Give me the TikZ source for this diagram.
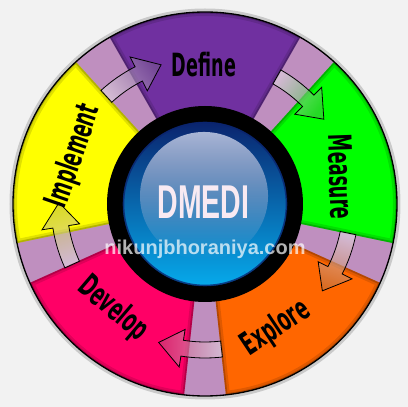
\documentclass[tikz,border=0pt]{standalone}
\usepackage{fontspec}
\setmainfont{Liberation Sans}
\newfontfamily\labelfont{DejaVu Sans}[FakeStretch=0.55]
\newfontfamily\titlefont{Liberation Sans}[FakeStretch=0.6]
\usetikzlibrary{fadings}
\definecolor{bg}{RGB}{242,242,242}
\definecolor{sepc}{RGB}{191,143,191}
\definecolor{cdefine}{RGB}{112,48,160}
\definecolor{cmeasure}{RGB}{0,255,0}
\definecolor{cexplore}{RGB}{255,102,0}
\definecolor{cdevelop}{RGB}{255,0,102}
\definecolor{cimplement}{RGB}{255,255,0}
\definecolor{btop}{RGB}{10,36,110}
\definecolor{bmid}{RGB}{22,92,178}
\definecolor{bbot}{RGB}{6,170,235}
\definecolor{hl}{RGB}{168,182,214}
\definecolor{ttext}{RGB}{248,234,242}
\definecolor{atail}{RGB}{222,208,222}
\tikzfading[name=hlfade, top color=transparent!0, bottom color=transparent!100]

\tikzset{
  lbl/.style={font=\labelfont\bfseries\fontsize{24}{24}\selectfont, text=black, inner sep=0pt},
  title/.style={font=\titlefont\bfseries\fontsize{35.6}{36}\selectfont, text=ttext, inner sep=0pt},
  wmark/.style={font=\bfseries\fontsize{15}{15}\selectfont, text=white, text opacity=0.7, inner sep=0pt},
  arrowshape/.style={draw=black, line width=0.6pt, fill opacity=0.65, line join=miter},
}

\newcommand\wheelsector[3]{%
  \fill[#3] (0,0) -- (#1:192) arc[start angle=#1, end angle=#2, radius=192] -- cycle;
  \begin{scope}
    \clip (0,0) -- (#1:192) arc[start angle=#1, end angle=#2, radius=192] -- cycle;
    \draw[black, opacity=0.12, line width=6pt] (0,0) -- (#1:192) arc[start angle=#1, end angle=#2, radius=192] -- cycle;
    \draw[black, opacity=0.2, line width=2.5pt] (0,0) -- (#1:192) arc[start angle=#1, end angle=#2, radius=192] -- cycle;
  \end{scope}}

\newcommand\cyclearrow[2]{%
  \pgfmathsetmacro\arrA{#1+6.5}%
  \pgfmathsetmacro\arrB{#1-9}%
  \pgfmathsetmacro\arrC{#1-18.5}%
  \pgfmathsetmacro\arrD{#1-180}%
  \shadedraw[arrowshape, bottom color=atail, top color=#2!55!gray, shading angle=\arrD]
    (\arrA:154) arc[start angle=\arrA, end angle=\arrB, radius=154]
    -- (\arrB:165) -- (\arrC:146) -- (\arrB:127) -- (\arrB:138)
    arc[start angle=\arrB, end angle=\arrA, radius=138] -- cycle;}

\begin{document}
\begin{tikzpicture}[x=0.75pt, y=0.75pt]
  \useasboundingbox (-205,-203) rectangle (203,204);
  \fill[bg] (-205,-203) rectangle (203,204);

  % outer halo and separator disk
  \draw[gray, opacity=0.35, line width=3pt] (0,0) circle (193.5);
  \fill[sepc] (0,0) circle (192);

  % sectors
  \wheelsector{-83.75}{-24.25}{cexplore}
  \wheelsector{-11.75}{47.75}{cmeasure}
  \wheelsector{60.25}{119.75}{cdefine}
  \wheelsector{132.25}{191.75}{cimplement}
  \wheelsector{204.25}{263.75}{cdevelop}

  \draw[black, line width=1pt] (0,0) circle (192);

  % cycle arrows
  \cyclearrow{126}{cdefine}
  \cyclearrow{54}{cmeasure}
  \cyclearrow{-18}{cexplore}
  \cyclearrow{270}{cdevelop}
  \cyclearrow{198}{cimplement}

  % labels
  \node[lbl] (define) at (-1,139) {Define};
  \node[lbl, rotate=-88] (measure) at (136,27) {Measure};
  \node[lbl, rotate=33.7] (explore) at (71,-124) {Explore};
  \node[lbl, rotate=-40.5] (develop) at (-92,-105) {Develop};
  \node[lbl, rotate=71] (implement) at (-131,48) {Implement};

  % hub
  \fill[black] (0,0) circle (98);
  \shade[top color=btop, middle color=bmid, bottom color=bbot] (0,0) circle (82);
  \fill[hl, path fading=hlfade] (-1,8) circle (64);
  \draw[btop, line width=1.2pt, opacity=0.8] (0,0) circle (81.5);
  \node[title] (dmedi) at (-1.5,2) {DMEDI};

  % watermark
  \node[wmark, anchor=base] (wm) at (0,-51) {nikunjbhoraniya.com};
\end{tikzpicture}
\end{document}
